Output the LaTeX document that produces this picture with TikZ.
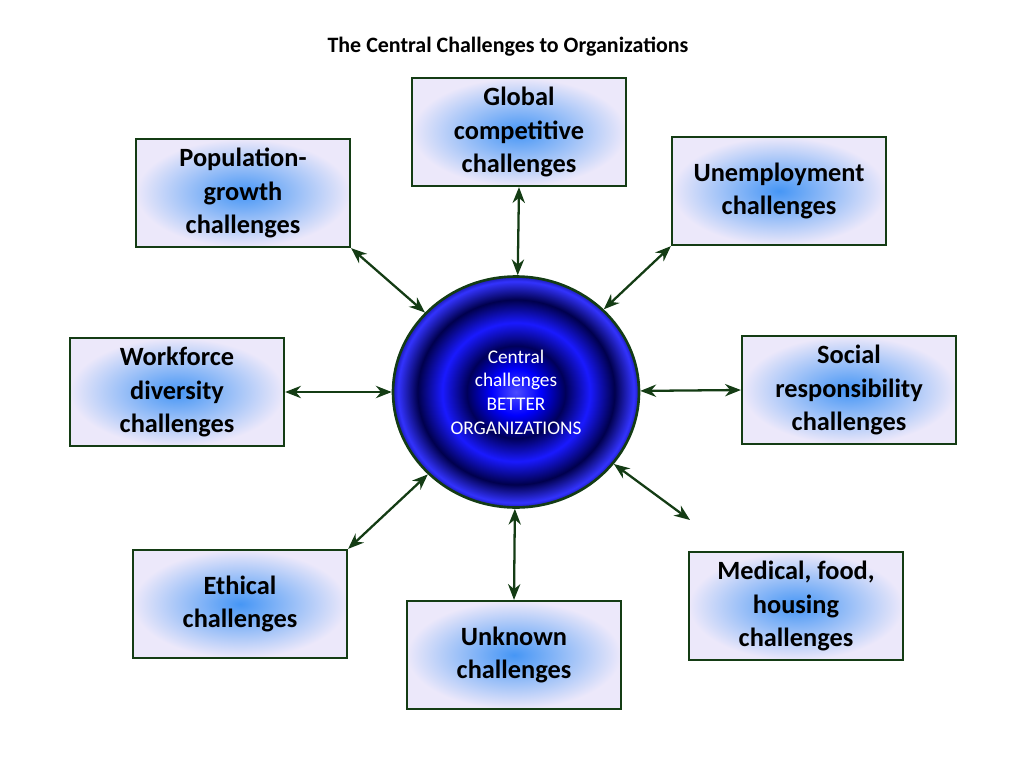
\documentclass[tikz,border=0pt]{standalone}
\usepackage{fontspec}
\setmainfont{Carlito}
\usetikzlibrary{arrows.meta,shapes.geometric}
\definecolor{edgec}{RGB}{20,60,20}
\definecolor{boxin}{RGB}{70,150,245}
\definecolor{boxout}{RGB}{236,232,250}
\pgfdeclareradialshading{rings}{\pgfpoint{0cm}{0cm}}{%
  color(0bp)=(blue!70!white);
  color(5bp)=(blue);
  color(10bp)=(blue!35!black);
  color(15bp)=(blue!90!white);
  color(20bp)=(blue!30!black);
  color(24bp)=(blue!80!white);
  color(26bp)=(blue!40!black);
  color(50bp)=(blue!40!black)}
\tikzstyle{challenge} = [
  draw=edgec,
  line width=1.3pt,
  minimum width=4.28cm,
  minimum height=2.16cm,
  align=center,
  font=\fontsize{15}{19}\selectfont\bfseries,
  inner color=boxin,
  outer color=boxout,
]
\tikzstyle{link} = [
  draw=edgec,
  line width=1.3pt,
  {Stealth[length=9pt,width=7pt]}-{Stealth[length=9pt,width=7pt]},
]

\begin{document}
\begin{tikzpicture}[x=0.02cm,y=-0.02cm]
    \useasboundingbox (0,0) rectangle (1024,768);

    % Title
    \node[font=\fontsize{12.5}{15}\selectfont\bfseries] (title) at (508,47)
      {The Central Challenges to Organizations};

    % Centre
    \node[ellipse, draw=edgec, line width=1.5pt, shading=rings,
      minimum width=4.92cm, minimum height=4.62cm,
      text=white, align=center, font=\fontsize{11}{13.5}\selectfont] (core) at (516,392)
      {Central\\challenges\\BETTER\\ORGANIZATIONS};

    % Challenges
    \node[challenge] (global) at (519,132) {Global\\competitive\\challenges};
    \node[challenge] (popul)  at (243,193) {Population-\\growth\\challenges};
    \node[challenge] (unemp)  at (779,191) {Unemployment\\challenges};
    \node[challenge] (work)   at (177,392) {Workforce\\diversity\\challenges};
    \node[challenge] (social) at (849,390) {Social\\responsibility\\challenges};
    \node[challenge] (ethic)  at (240,604) {Ethical\\challenges};
    \node[challenge] (unkn)   at (514,655) {Unknown\\challenges};
    \node[challenge] (medic)  at (796,606) {Medical, food,\\housing\\challenges};
    \coordinate (medend) at (690,520);

    % Links
    \draw[link] (global.south) -- (core);
    \draw[link] (popul.south east) -- (core);
    \draw[link] (unemp.south west) -- (core);
    \draw[link] (work.east) -- (core);
    \draw[link] (social.west) -- (core);
    \draw[link] (ethic.north east) -- (core);
    \draw[link] (unkn.north) -- (core);
    \draw[link] (medend) -- (core);
\end{tikzpicture}
\end{document}
